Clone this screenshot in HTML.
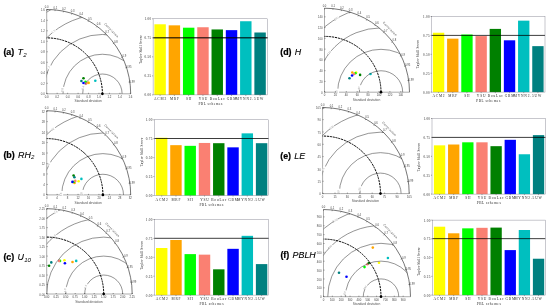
<!DOCTYPE html>
<html lang="en">
<head>
<meta charset="utf-8">
<title>Taylor diagrams and Taylor Skill Scores of PBL schemes</title>
<style>
html,body{margin:0;padding:0;background:#fff;}
body{width:550px;height:308px;overflow:hidden;}
svg{display:block;}
</style>
</head>
<body>
<svg width="550" height="308" viewBox="0 0 550 308">
<rect width="550" height="308" fill="#fff"/>
<defs>
<clipPath id="clip1"><path d="M46.7 93.8 L130.7 93.8 A84 84.34 0 0 0 46.7 9.46 Z"/></clipPath>
<clipPath id="clip2"><path d="M46.7 194.9 L130.7 194.9 A84 84.17 0 0 0 46.7 110.73 Z"/></clipPath>
<clipPath id="clip3"><path d="M46.7 294 L132.2 294 A85.5 85.33 0 0 0 46.7 208.67 Z"/></clipPath>
<clipPath id="clip4"><path d="M324.5 92.2 L409.5 92.2 A85 83.98 0 0 0 324.5 8.22 Z"/></clipPath>
<clipPath id="clip5"><path d="M322.6 193.6 L409.2 193.6 A86.6 86.08 0 0 0 322.6 107.52 Z"/></clipPath>
<clipPath id="clip6"><path d="M323.5 296.7 L410.5 296.7 A87 87.17 0 0 0 323.5 209.53 Z"/></clipPath>
</defs>
<circle cx="88.8" cy="82.9" r="1.3" fill="#ffff00"/>
<circle cx="88.3" cy="82.8" r="1.3" fill="#ffa500"/>
<circle cx="85.5" cy="81.8" r="1.3" fill="#00ff00"/>
<circle cx="86.2" cy="83.6" r="1.3" fill="#fa8072"/>
<circle cx="83.5" cy="78.2" r="1.3" fill="#008000"/>
<circle cx="83.5" cy="83" r="1.3" fill="#0000ff"/>
<circle cx="95.3" cy="80.7" r="1.3" fill="#00bfbf"/>
<circle cx="81.4" cy="81" r="1.3" fill="#008080"/>
<g clip-path="url(#clip1)" fill="none" stroke="#3c3c3c" stroke-width="0.55"><ellipse cx="102.4" cy="93.8" rx="19.7" ry="19.78"/><ellipse cx="102.4" cy="93.8" rx="39.4" ry="39.56"/><ellipse cx="102.4" cy="93.8" rx="59.1" ry="59.34"/><ellipse cx="102.4" cy="93.8" rx="78.8" ry="79.12"/><ellipse cx="102.4" cy="93.8" rx="98.5" ry="98.89"/></g>
<path d="M130.7 93.8 A84 84.34 0 0 0 46.7 9.46" fill="none" stroke="#1a1a1a" stroke-width="0.6"/>
<path d="M46.7 9.46 L46.7 93.8 L130.7 93.8" fill="none" stroke="#3a3a3a" stroke-width="0.42"/>
<text x="46.7" y="97.8" font-family="Liberation Sans, sans-serif" font-size="2.8" text-anchor="middle" fill="#444">0.0</text>
<text x="44.9" y="95.35" font-family="Liberation Sans, sans-serif" font-size="2.9" text-anchor="end" fill="#505050">0.0</text>
<text x="57.16" y="97.8" font-family="Liberation Sans, sans-serif" font-size="2.8" text-anchor="middle" fill="#444">0.2</text>
<text x="44.9" y="84.85" font-family="Liberation Sans, sans-serif" font-size="2.9" text-anchor="end" fill="#505050">0.2</text>
<text x="67.62" y="97.8" font-family="Liberation Sans, sans-serif" font-size="2.8" text-anchor="middle" fill="#444">0.4</text>
<text x="44.9" y="74.35" font-family="Liberation Sans, sans-serif" font-size="2.9" text-anchor="end" fill="#505050">0.4</text>
<text x="78.08" y="97.8" font-family="Liberation Sans, sans-serif" font-size="2.8" text-anchor="middle" fill="#444">0.6</text>
<text x="44.9" y="63.84" font-family="Liberation Sans, sans-serif" font-size="2.9" text-anchor="end" fill="#505050">0.6</text>
<text x="88.54" y="97.8" font-family="Liberation Sans, sans-serif" font-size="2.8" text-anchor="middle" fill="#444">0.8</text>
<text x="44.9" y="53.34" font-family="Liberation Sans, sans-serif" font-size="2.9" text-anchor="end" fill="#505050">0.8</text>
<text x="99" y="97.8" font-family="Liberation Sans, sans-serif" font-size="2.8" text-anchor="middle" fill="#444">1.0</text>
<text x="44.9" y="42.84" font-family="Liberation Sans, sans-serif" font-size="2.9" text-anchor="end" fill="#505050">1.0</text>
<text x="109.46" y="97.8" font-family="Liberation Sans, sans-serif" font-size="2.8" text-anchor="middle" fill="#444">1.2</text>
<text x="44.9" y="32.34" font-family="Liberation Sans, sans-serif" font-size="2.9" text-anchor="end" fill="#505050">1.2</text>
<text x="119.92" y="97.8" font-family="Liberation Sans, sans-serif" font-size="2.8" text-anchor="middle" fill="#444">1.4</text>
<text x="44.9" y="21.84" font-family="Liberation Sans, sans-serif" font-size="2.9" text-anchor="end" fill="#505050">1.4</text>
<text x="130.38" y="97.8" font-family="Liberation Sans, sans-serif" font-size="2.8" text-anchor="middle" fill="#444">1.6</text>
<text x="44.9" y="11.34" font-family="Liberation Sans, sans-serif" font-size="2.9" text-anchor="end" fill="#505050">1.6</text>
<path d="M46.7 93.8 v-1 M46.7 93.8 h1 M57.16 93.8 v-1 M46.7 83.3 h1 M67.62 93.8 v-1 M46.7 72.8 h1 M78.08 93.8 v-1 M46.7 62.29 h1 M88.54 93.8 v-1 M46.7 51.79 h1 M99 93.8 v-1 M46.7 41.29 h1 M109.46 93.8 v-1 M46.7 30.79 h1 M119.92 93.8 v-1 M46.7 20.29 h1 M130.38 93.8 v-1 M46.7 9.79 h1" stroke="#1a1a1a" stroke-width="0.45" fill="none"/>
<text x="88.2" y="102.4" font-family="Liberation Sans, sans-serif" font-size="3.3" text-anchor="middle" fill="#555">Standard deviation</text>
<text x="46.7" y="8.06" font-family="Liberation Sans, sans-serif" font-size="2.7" text-anchor="middle" fill="#444">0.0</text>
<text x="55.34" y="8.5" font-family="Liberation Sans, sans-serif" font-size="2.7" text-anchor="middle" fill="#444">0.1</text>
<text x="63.98" y="9.82" font-family="Liberation Sans, sans-serif" font-size="2.7" text-anchor="middle" fill="#444">0.2</text>
<text x="72.62" y="12.06" font-family="Liberation Sans, sans-serif" font-size="2.7" text-anchor="middle" fill="#444">0.3</text>
<text x="81.26" y="15.31" font-family="Liberation Sans, sans-serif" font-size="2.7" text-anchor="middle" fill="#444">0.4</text>
<text x="89.9" y="19.68" font-family="Liberation Sans, sans-serif" font-size="2.7" text-anchor="middle" fill="#444">0.5</text>
<text x="98.54" y="25.41" font-family="Liberation Sans, sans-serif" font-size="2.7" text-anchor="middle" fill="#444">0.6</text>
<text x="107.18" y="32.86" font-family="Liberation Sans, sans-serif" font-size="2.7" text-anchor="middle" fill="#444">0.7</text>
<text x="115.82" y="42.76" font-family="Liberation Sans, sans-serif" font-size="2.7" text-anchor="middle" fill="#444">0.8</text>
<text x="124.46" y="56.99" font-family="Liberation Sans, sans-serif" font-size="2.7" text-anchor="middle" fill="#444">0.9</text>
<text x="128.78" y="67.72" font-family="Liberation Sans, sans-serif" font-size="2.7" text-anchor="middle" fill="#444">0.95</text>
<text x="132.24" y="82.56" font-family="Liberation Sans, sans-serif" font-size="2.7" text-anchor="middle" fill="#444">0.99</text>
<path d="M46.7 10.66 L46.7 9.46 M54.98 11.08 L55.1 9.89 M63.26 12.34 L63.5 11.17 M71.54 14.49 L71.9 13.35 M79.82 17.6 L80.3 16.5 M88.1 21.8 L88.7 20.76 M96.38 27.29 L97.1 26.33 M104.66 34.43 L105.5 33.57 M112.94 43.92 L113.9 43.2 M121.22 57.56 L122.3 57.04 M125.36 67.84 L126.5 67.47 M128.67 82.07 L129.86 81.9" stroke="#1a1a1a" stroke-width="0.45" fill="none"/>
<text x="110.7" y="31.08" font-family="Liberation Sans, sans-serif" font-size="3" text-anchor="middle" fill="#222" letter-spacing="0.42" transform="rotate(45.5 110.7 31.08)">Correlation</text>
<rect x="81.54" y="85.67" width="4.6" height="3" fill="#fff" transform="rotate(-70.4 83.84 87.17)"/>
<text x="83.84" y="88.17" font-family="Liberation Sans, sans-serif" font-size="2.8" text-anchor="middle" fill="#999" transform="rotate(-70.4 83.84 88.17)">0.4</text>
<rect x="60.98" y="87.62" width="4.6" height="3" fill="#fff" transform="rotate(-83.2 63.28 89.12)"/>
<text x="63.28" y="90.12" font-family="Liberation Sans, sans-serif" font-size="2.8" text-anchor="middle" fill="#999" transform="rotate(-83.2 63.28 90.12)">0.8</text>
<rect x="47.16" y="65.92" width="4.6" height="3" fill="#fff" transform="rotate(-63.6 49.46 67.42)"/>
<text x="49.46" y="68.42" font-family="Liberation Sans, sans-serif" font-size="2.8" text-anchor="middle" fill="#999" transform="rotate(-63.6 49.46 68.42)">1.1</text>
<rect x="51.8" y="29.79" width="4.6" height="3" fill="#fff" transform="rotate(-37.8 54.1 31.29)"/>
<text x="54.1" y="32.29" font-family="Liberation Sans, sans-serif" font-size="2.8" text-anchor="middle" fill="#999" transform="rotate(-37.8 54.1 32.29)">1.5</text>
<path d="M102.4 93.8 A55.7 55.92 0 0 0 46.7 37.88" fill="none" stroke="#000" stroke-width="1.0" stroke-dasharray="2.1 0.8"/>
<circle cx="102.4" cy="93.8" r="1.35" fill="#000"/>
<circle cx="78.6" cy="181.2" r="1.3" fill="#ffff00"/>
<circle cx="74.5" cy="183" r="1.3" fill="#ffa500"/>
<circle cx="74.1" cy="181.8" r="1.3" fill="#00ff00"/>
<circle cx="75.3" cy="180.9" r="1.3" fill="#fa8072"/>
<circle cx="73.6" cy="175.5" r="1.3" fill="#008000"/>
<circle cx="72.4" cy="181.9" r="1.3" fill="#0000ff"/>
<circle cx="81.4" cy="178.9" r="1.3" fill="#00bfbf"/>
<circle cx="74.4" cy="177.3" r="1.3" fill="#008080"/>
<g clip-path="url(#clip2)" fill="none" stroke="#3c3c3c" stroke-width="0.55"><ellipse cx="102.9" cy="194.9" rx="20.6" ry="20.64"/><ellipse cx="102.9" cy="194.9" rx="41.2" ry="41.28"/><ellipse cx="102.9" cy="194.9" rx="61.8" ry="61.92"/><ellipse cx="102.9" cy="194.9" rx="82.4" ry="82.56"/></g>
<path d="M130.7 194.9 A84 84.17 0 0 0 46.7 110.73" fill="none" stroke="#1a1a1a" stroke-width="0.6"/>
<path d="M46.7 110.73 L46.7 194.9 L130.7 194.9" fill="none" stroke="#3a3a3a" stroke-width="0.42"/>
<text x="46.7" y="198.9" font-family="Liberation Sans, sans-serif" font-size="2.8" text-anchor="middle" fill="#444">0</text>
<text x="44.9" y="196.45" font-family="Liberation Sans, sans-serif" font-size="2.9" text-anchor="end" fill="#505050">0</text>
<text x="57.15" y="198.9" font-family="Liberation Sans, sans-serif" font-size="2.8" text-anchor="middle" fill="#444">4</text>
<text x="44.9" y="185.98" font-family="Liberation Sans, sans-serif" font-size="2.9" text-anchor="end" fill="#505050">4</text>
<text x="67.6" y="198.9" font-family="Liberation Sans, sans-serif" font-size="2.8" text-anchor="middle" fill="#444">8</text>
<text x="44.9" y="175.51" font-family="Liberation Sans, sans-serif" font-size="2.9" text-anchor="end" fill="#505050">8</text>
<text x="78.05" y="198.9" font-family="Liberation Sans, sans-serif" font-size="2.8" text-anchor="middle" fill="#444">12</text>
<text x="44.9" y="165.04" font-family="Liberation Sans, sans-serif" font-size="2.9" text-anchor="end" fill="#505050">12</text>
<text x="88.5" y="198.9" font-family="Liberation Sans, sans-serif" font-size="2.8" text-anchor="middle" fill="#444">16</text>
<text x="44.9" y="154.57" font-family="Liberation Sans, sans-serif" font-size="2.9" text-anchor="end" fill="#505050">16</text>
<text x="98.95" y="198.9" font-family="Liberation Sans, sans-serif" font-size="2.8" text-anchor="middle" fill="#444">20</text>
<text x="44.9" y="144.1" font-family="Liberation Sans, sans-serif" font-size="2.9" text-anchor="end" fill="#505050">20</text>
<text x="109.4" y="198.9" font-family="Liberation Sans, sans-serif" font-size="2.8" text-anchor="middle" fill="#444">24</text>
<text x="44.9" y="133.62" font-family="Liberation Sans, sans-serif" font-size="2.9" text-anchor="end" fill="#505050">24</text>
<text x="119.85" y="198.9" font-family="Liberation Sans, sans-serif" font-size="2.8" text-anchor="middle" fill="#444">28</text>
<text x="44.9" y="123.15" font-family="Liberation Sans, sans-serif" font-size="2.9" text-anchor="end" fill="#505050">28</text>
<text x="130.3" y="198.9" font-family="Liberation Sans, sans-serif" font-size="2.8" text-anchor="middle" fill="#444">32</text>
<text x="44.9" y="112.68" font-family="Liberation Sans, sans-serif" font-size="2.9" text-anchor="end" fill="#505050">32</text>
<path d="M46.7 194.9 v-1 M46.7 194.9 h1 M57.15 194.9 v-1 M46.7 184.43 h1 M67.6 194.9 v-1 M46.7 173.96 h1 M78.05 194.9 v-1 M46.7 163.49 h1 M88.5 194.9 v-1 M46.7 153.02 h1 M98.95 194.9 v-1 M46.7 142.55 h1 M109.4 194.9 v-1 M46.7 132.07 h1 M119.85 194.9 v-1 M46.7 121.6 h1 M130.3 194.9 v-1 M46.7 111.13 h1" stroke="#1a1a1a" stroke-width="0.45" fill="none"/>
<text x="88.2" y="203.5" font-family="Liberation Sans, sans-serif" font-size="3.3" text-anchor="middle" fill="#555">Standard deviation</text>
<text x="46.7" y="109.33" font-family="Liberation Sans, sans-serif" font-size="2.7" text-anchor="middle" fill="#444">0.0</text>
<text x="55.34" y="109.77" font-family="Liberation Sans, sans-serif" font-size="2.7" text-anchor="middle" fill="#444">0.1</text>
<text x="63.98" y="111.08" font-family="Liberation Sans, sans-serif" font-size="2.7" text-anchor="middle" fill="#444">0.2</text>
<text x="72.62" y="113.32" font-family="Liberation Sans, sans-serif" font-size="2.7" text-anchor="middle" fill="#444">0.3</text>
<text x="81.26" y="116.56" font-family="Liberation Sans, sans-serif" font-size="2.7" text-anchor="middle" fill="#444">0.4</text>
<text x="89.9" y="120.93" font-family="Liberation Sans, sans-serif" font-size="2.7" text-anchor="middle" fill="#444">0.5</text>
<text x="98.54" y="126.65" font-family="Liberation Sans, sans-serif" font-size="2.7" text-anchor="middle" fill="#444">0.6</text>
<text x="107.18" y="134.08" font-family="Liberation Sans, sans-serif" font-size="2.7" text-anchor="middle" fill="#444">0.7</text>
<text x="115.82" y="143.96" font-family="Liberation Sans, sans-serif" font-size="2.7" text-anchor="middle" fill="#444">0.8</text>
<text x="124.46" y="158.17" font-family="Liberation Sans, sans-serif" font-size="2.7" text-anchor="middle" fill="#444">0.9</text>
<text x="128.78" y="168.87" font-family="Liberation Sans, sans-serif" font-size="2.7" text-anchor="middle" fill="#444">0.95</text>
<text x="132.24" y="183.69" font-family="Liberation Sans, sans-serif" font-size="2.7" text-anchor="middle" fill="#444">0.99</text>
<path d="M46.7 111.93 L46.7 110.73 M54.98 112.35 L55.1 111.15 M63.26 113.61 L63.5 112.43 M71.54 115.75 L71.9 114.61 M79.82 118.86 L80.3 117.76 M88.1 123.05 L88.7 122.01 M96.38 128.53 L97.1 127.57 M104.66 135.65 L105.5 134.79 M112.94 145.12 L113.9 144.4 M121.22 158.74 L122.3 158.21 M125.36 168.99 L126.5 168.62 M128.67 183.2 L129.86 183.03" stroke="#1a1a1a" stroke-width="0.45" fill="none"/>
<text x="110.7" y="132.3" font-family="Liberation Sans, sans-serif" font-size="3" text-anchor="middle" fill="#222" letter-spacing="0.42" transform="rotate(45.5 110.7 132.3)">Correlation</text>
<rect x="80.18" y="190.67" width="4.6" height="3" fill="#fff" transform="rotate(-82.4 82.48 192.17)"/>
<text x="82.48" y="193.17" font-family="Liberation Sans, sans-serif" font-size="2.8" text-anchor="middle" fill="#999" transform="rotate(-82.4 82.48 193.17)">8</text>
<rect x="59.43" y="191.82" width="4.6" height="3" fill="#fff" transform="rotate(-87.8 61.73 193.32)"/>
<text x="61.73" y="194.32" font-family="Liberation Sans, sans-serif" font-size="2.8" text-anchor="middle" fill="#999" transform="rotate(-87.8 61.73 194.32)">16</text>
<rect x="46.97" y="162.63" width="4.6" height="3" fill="#fff" transform="rotate(-60.2 49.27 164.13)"/>
<text x="49.27" y="165.13" font-family="Liberation Sans, sans-serif" font-size="2.8" text-anchor="middle" fill="#999" transform="rotate(-60.2 49.27 165.13)">24</text>
<rect x="51.01" y="127.46" width="4.6" height="3" fill="#fff" transform="rotate(-37 53.31 128.96)"/>
<text x="53.31" y="129.96" font-family="Liberation Sans, sans-serif" font-size="2.8" text-anchor="middle" fill="#999" transform="rotate(-37 53.31 129.96)">32</text>
<path d="M102.9 194.9 A56.2 56.31 0 0 0 46.7 138.59" fill="none" stroke="#000" stroke-width="1.0" stroke-dasharray="2.1 0.8"/>
<circle cx="102.9" cy="194.9" r="1.35" fill="#000"/>
<circle cx="64.4" cy="260.2" r="1.3" fill="#ffff00"/>
<circle cx="72.5" cy="262" r="1.3" fill="#ffa500"/>
<circle cx="60" cy="260.9" r="1.3" fill="#00ff00"/>
<circle cx="59.1" cy="260.9" r="1.3" fill="#fa8072"/>
<circle cx="49.1" cy="265.8" r="1.3" fill="#008000"/>
<circle cx="64.9" cy="263.3" r="1.3" fill="#0000ff"/>
<circle cx="76.2" cy="260.9" r="1.3" fill="#00bfbf"/>
<circle cx="51.3" cy="262.4" r="1.3" fill="#008080"/>
<g clip-path="url(#clip3)" fill="none" stroke="#3c3c3c" stroke-width="0.55"><ellipse cx="103.7" cy="294" rx="19" ry="18.96"/><ellipse cx="103.7" cy="294" rx="38" ry="37.92"/><ellipse cx="103.7" cy="294" rx="57" ry="56.89"/><ellipse cx="103.7" cy="294" rx="76" ry="75.85"/><ellipse cx="103.7" cy="294" rx="95" ry="94.81"/></g>
<path d="M132.2 294 A85.5 85.33 0 0 0 46.7 208.67" fill="none" stroke="#1a1a1a" stroke-width="0.6"/>
<path d="M46.7 208.67 L46.7 294 L132.2 294" fill="none" stroke="#3a3a3a" stroke-width="0.42"/>
<text x="46.7" y="298" font-family="Liberation Sans, sans-serif" font-size="2.8" text-anchor="middle" fill="#444">0.00</text>
<text x="44.9" y="295.55" font-family="Liberation Sans, sans-serif" font-size="2.9" text-anchor="end" fill="#505050">0.00</text>
<text x="56.2" y="298" font-family="Liberation Sans, sans-serif" font-size="2.8" text-anchor="middle" fill="#444">0.25</text>
<text x="44.9" y="286.07" font-family="Liberation Sans, sans-serif" font-size="2.9" text-anchor="end" fill="#505050">0.25</text>
<text x="65.7" y="298" font-family="Liberation Sans, sans-serif" font-size="2.8" text-anchor="middle" fill="#444">0.50</text>
<text x="44.9" y="276.59" font-family="Liberation Sans, sans-serif" font-size="2.9" text-anchor="end" fill="#505050">0.50</text>
<text x="75.2" y="298" font-family="Liberation Sans, sans-serif" font-size="2.8" text-anchor="middle" fill="#444">0.75</text>
<text x="44.9" y="267.11" font-family="Liberation Sans, sans-serif" font-size="2.9" text-anchor="end" fill="#505050">0.75</text>
<text x="84.7" y="298" font-family="Liberation Sans, sans-serif" font-size="2.8" text-anchor="middle" fill="#444">1.00</text>
<text x="44.9" y="257.63" font-family="Liberation Sans, sans-serif" font-size="2.9" text-anchor="end" fill="#505050">1.00</text>
<text x="94.2" y="298" font-family="Liberation Sans, sans-serif" font-size="2.8" text-anchor="middle" fill="#444">1.25</text>
<text x="44.9" y="248.15" font-family="Liberation Sans, sans-serif" font-size="2.9" text-anchor="end" fill="#505050">1.25</text>
<text x="103.7" y="298" font-family="Liberation Sans, sans-serif" font-size="2.8" text-anchor="middle" fill="#444">1.50</text>
<text x="44.9" y="238.66" font-family="Liberation Sans, sans-serif" font-size="2.9" text-anchor="end" fill="#505050">1.50</text>
<text x="113.2" y="298" font-family="Liberation Sans, sans-serif" font-size="2.8" text-anchor="middle" fill="#444">1.75</text>
<text x="44.9" y="229.18" font-family="Liberation Sans, sans-serif" font-size="2.9" text-anchor="end" fill="#505050">1.75</text>
<text x="122.7" y="298" font-family="Liberation Sans, sans-serif" font-size="2.8" text-anchor="middle" fill="#444">2.00</text>
<text x="44.9" y="219.7" font-family="Liberation Sans, sans-serif" font-size="2.9" text-anchor="end" fill="#505050">2.00</text>
<text x="132.2" y="298" font-family="Liberation Sans, sans-serif" font-size="2.8" text-anchor="middle" fill="#444">2.25</text>
<text x="44.9" y="210.22" font-family="Liberation Sans, sans-serif" font-size="2.9" text-anchor="end" fill="#505050">2.25</text>
<path d="M46.7 294 v-1 M46.7 294 h1 M56.2 294 v-1 M46.7 284.52 h1 M65.7 294 v-1 M46.7 275.04 h1 M75.2 294 v-1 M46.7 265.56 h1 M84.7 294 v-1 M46.7 256.08 h1 M94.2 294 v-1 M46.7 246.59 h1 M103.7 294 v-1 M46.7 237.11 h1 M113.2 294 v-1 M46.7 227.63 h1 M122.7 294 v-1 M46.7 218.15 h1 M132.2 294 v-1 M46.7 208.67 h1" stroke="#1a1a1a" stroke-width="0.45" fill="none"/>
<text x="88.95" y="302.6" font-family="Liberation Sans, sans-serif" font-size="3.3" text-anchor="middle" fill="#555">Standard deviation</text>
<text x="46.7" y="207.27" font-family="Liberation Sans, sans-serif" font-size="2.7" text-anchor="middle" fill="#444">0.0</text>
<text x="55.49" y="207.71" font-family="Liberation Sans, sans-serif" font-size="2.7" text-anchor="middle" fill="#444">0.1</text>
<text x="64.28" y="209.04" font-family="Liberation Sans, sans-serif" font-size="2.7" text-anchor="middle" fill="#444">0.2</text>
<text x="73.07" y="211.31" font-family="Liberation Sans, sans-serif" font-size="2.7" text-anchor="middle" fill="#444">0.3</text>
<text x="81.86" y="214.6" font-family="Liberation Sans, sans-serif" font-size="2.7" text-anchor="middle" fill="#444">0.4</text>
<text x="90.65" y="219.02" font-family="Liberation Sans, sans-serif" font-size="2.7" text-anchor="middle" fill="#444">0.5</text>
<text x="99.44" y="224.82" font-family="Liberation Sans, sans-serif" font-size="2.7" text-anchor="middle" fill="#444">0.6</text>
<text x="108.23" y="232.35" font-family="Liberation Sans, sans-serif" font-size="2.7" text-anchor="middle" fill="#444">0.7</text>
<text x="117.02" y="242.36" font-family="Liberation Sans, sans-serif" font-size="2.7" text-anchor="middle" fill="#444">0.8</text>
<text x="125.81" y="256.76" font-family="Liberation Sans, sans-serif" font-size="2.7" text-anchor="middle" fill="#444">0.9</text>
<text x="130.2" y="267.61" font-family="Liberation Sans, sans-serif" font-size="2.7" text-anchor="middle" fill="#444">0.95</text>
<text x="133.72" y="282.62" font-family="Liberation Sans, sans-serif" font-size="2.7" text-anchor="middle" fill="#444">0.99</text>
<path d="M46.7 209.87 L46.7 208.67 M55.13 210.29 L55.25 209.1 M63.56 211.57 L63.8 210.39 M71.99 213.75 L72.35 212.6 M80.42 216.89 L80.9 215.79 M88.85 221.14 L89.45 220.1 M97.28 226.7 L98 225.74 M105.71 233.92 L106.55 233.06 M114.14 243.52 L115.1 242.8 M122.57 257.33 L123.65 256.81 M126.78 267.73 L127.92 267.36 M130.16 282.13 L131.34 281.96" stroke="#1a1a1a" stroke-width="0.45" fill="none"/>
<text x="111.77" y="230.59" font-family="Liberation Sans, sans-serif" font-size="3" text-anchor="middle" fill="#222" letter-spacing="0.42" transform="rotate(45.5 111.77 230.59)">Correlation</text>
<rect x="84.11" y="284.64" width="4.6" height="3" fill="#fff" transform="rotate(-65.5 86.41 286.14)"/>
<text x="86.41" y="287.14" font-family="Liberation Sans, sans-serif" font-size="2.8" text-anchor="middle" fill="#999" transform="rotate(-65.5 86.41 287.14)">0.5</text>
<rect x="63.68" y="287.88" width="4.6" height="3" fill="#fff" transform="rotate(-83 65.98 289.38)"/>
<text x="65.98" y="290.38" font-family="Liberation Sans, sans-serif" font-size="2.8" text-anchor="middle" fill="#999" transform="rotate(-83 65.98 290.38)">1.0</text>
<rect x="52.35" y="234.57" width="4.6" height="3" fill="#fff" transform="rotate(-40.2 54.65 236.07)"/>
<text x="54.65" y="237.07" font-family="Liberation Sans, sans-serif" font-size="2.8" text-anchor="middle" fill="#999" transform="rotate(-40.2 54.65 237.07)">2.0</text>
<rect x="53.9" y="210.39" width="4.6" height="3" fill="#fff" transform="rotate(-30 56.2 211.89)"/>
<text x="56.2" y="212.89" font-family="Liberation Sans, sans-serif" font-size="2.8" text-anchor="middle" fill="#999" transform="rotate(-30 56.2 212.89)">2.5</text>
<path d="M103.7 294 A57 56.89 0 0 0 46.7 237.11" fill="none" stroke="#000" stroke-width="1.0" stroke-dasharray="2.1 0.8"/>
<circle cx="103.7" cy="294" r="1.35" fill="#000"/>
<circle cx="356.1" cy="72.5" r="1.3" fill="#ffff00"/>
<circle cx="352.3" cy="72.5" r="1.3" fill="#ffa500"/>
<circle cx="355.4" cy="73.3" r="1.3" fill="#00ff00"/>
<circle cx="354.1" cy="74" r="1.3" fill="#fa8072"/>
<circle cx="360.1" cy="74.9" r="1.3" fill="#008000"/>
<circle cx="352.1" cy="75.5" r="1.3" fill="#0000ff"/>
<circle cx="370.5" cy="74" r="1.3" fill="#00bfbf"/>
<circle cx="349.5" cy="78.2" r="1.3" fill="#008080"/>
<g clip-path="url(#clip4)" fill="none" stroke="#3c3c3c" stroke-width="0.55"><ellipse cx="381" cy="92.2" rx="21.7" ry="21.44"/><ellipse cx="381" cy="92.2" rx="43.4" ry="42.88"/><ellipse cx="381" cy="92.2" rx="65.1" ry="64.32"/><ellipse cx="381" cy="92.2" rx="86.8" ry="85.76"/></g>
<path d="M409.5 92.2 A85 83.98 0 0 0 324.5 8.22" fill="none" stroke="#1a1a1a" stroke-width="0.6"/>
<path d="M324.5 8.22 L324.5 92.2 L409.5 92.2" fill="none" stroke="#3a3a3a" stroke-width="0.42"/>
<text x="324.5" y="96.2" font-family="Liberation Sans, sans-serif" font-size="2.8" text-anchor="middle" fill="#444">0</text>
<text x="322.7" y="93.75" font-family="Liberation Sans, sans-serif" font-size="2.9" text-anchor="end" fill="#505050">0</text>
<text x="335.4" y="96.2" font-family="Liberation Sans, sans-serif" font-size="2.8" text-anchor="middle" fill="#444">20</text>
<text x="322.7" y="82.98" font-family="Liberation Sans, sans-serif" font-size="2.9" text-anchor="end" fill="#505050">20</text>
<text x="346.3" y="96.2" font-family="Liberation Sans, sans-serif" font-size="2.8" text-anchor="middle" fill="#444">40</text>
<text x="322.7" y="72.21" font-family="Liberation Sans, sans-serif" font-size="2.9" text-anchor="end" fill="#505050">40</text>
<text x="357.2" y="96.2" font-family="Liberation Sans, sans-serif" font-size="2.8" text-anchor="middle" fill="#444">60</text>
<text x="322.7" y="61.44" font-family="Liberation Sans, sans-serif" font-size="2.9" text-anchor="end" fill="#505050">60</text>
<text x="368.1" y="96.2" font-family="Liberation Sans, sans-serif" font-size="2.8" text-anchor="middle" fill="#444">80</text>
<text x="322.7" y="50.67" font-family="Liberation Sans, sans-serif" font-size="2.9" text-anchor="end" fill="#505050">80</text>
<text x="379" y="96.2" font-family="Liberation Sans, sans-serif" font-size="2.8" text-anchor="middle" fill="#444">100</text>
<text x="322.7" y="39.9" font-family="Liberation Sans, sans-serif" font-size="2.9" text-anchor="end" fill="#505050">100</text>
<text x="389.9" y="96.2" font-family="Liberation Sans, sans-serif" font-size="2.8" text-anchor="middle" fill="#444">120</text>
<text x="322.7" y="29.13" font-family="Liberation Sans, sans-serif" font-size="2.9" text-anchor="end" fill="#505050">120</text>
<text x="400.8" y="96.2" font-family="Liberation Sans, sans-serif" font-size="2.8" text-anchor="middle" fill="#444">140</text>
<text x="322.7" y="18.37" font-family="Liberation Sans, sans-serif" font-size="2.9" text-anchor="end" fill="#505050">140</text>
<path d="M324.5 92.2 v-1 M324.5 92.2 h1 M335.4 92.2 v-1 M324.5 81.43 h1 M346.3 92.2 v-1 M324.5 70.66 h1 M357.2 92.2 v-1 M324.5 59.89 h1 M368.1 92.2 v-1 M324.5 49.12 h1 M379 92.2 v-1 M324.5 38.35 h1 M389.9 92.2 v-1 M324.5 27.58 h1 M400.8 92.2 v-1 M324.5 16.82 h1" stroke="#1a1a1a" stroke-width="0.45" fill="none"/>
<text x="366.5" y="100.8" font-family="Liberation Sans, sans-serif" font-size="3.3" text-anchor="middle" fill="#555">Standard deviation</text>
<text x="324.5" y="6.82" font-family="Liberation Sans, sans-serif" font-size="2.7" text-anchor="middle" fill="#444">0.0</text>
<text x="333.24" y="7.25" font-family="Liberation Sans, sans-serif" font-size="2.7" text-anchor="middle" fill="#444">0.1</text>
<text x="341.98" y="8.57" font-family="Liberation Sans, sans-serif" font-size="2.7" text-anchor="middle" fill="#444">0.2</text>
<text x="350.72" y="10.8" font-family="Liberation Sans, sans-serif" font-size="2.7" text-anchor="middle" fill="#444">0.3</text>
<text x="359.46" y="14.03" font-family="Liberation Sans, sans-serif" font-size="2.7" text-anchor="middle" fill="#444">0.4</text>
<text x="368.2" y="18.39" font-family="Liberation Sans, sans-serif" font-size="2.7" text-anchor="middle" fill="#444">0.5</text>
<text x="376.94" y="24.1" font-family="Liberation Sans, sans-serif" font-size="2.7" text-anchor="middle" fill="#444">0.6</text>
<text x="385.68" y="31.51" font-family="Liberation Sans, sans-serif" font-size="2.7" text-anchor="middle" fill="#444">0.7</text>
<text x="394.42" y="41.37" font-family="Liberation Sans, sans-serif" font-size="2.7" text-anchor="middle" fill="#444">0.8</text>
<text x="403.16" y="55.55" font-family="Liberation Sans, sans-serif" font-size="2.7" text-anchor="middle" fill="#444">0.9</text>
<text x="407.53" y="66.23" font-family="Liberation Sans, sans-serif" font-size="2.7" text-anchor="middle" fill="#444">0.95</text>
<text x="411.03" y="81.01" font-family="Liberation Sans, sans-serif" font-size="2.7" text-anchor="middle" fill="#444">0.99</text>
<path d="M324.5 9.42 L324.5 8.22 M332.88 9.83 L333 8.64 M341.26 11.09 L341.5 9.92 M349.64 13.23 L350 12.09 M358.02 16.33 L358.5 15.23 M366.4 20.51 L367 19.47 M374.78 25.98 L375.5 25.02 M383.16 33.08 L384 32.23 M391.54 42.53 L392.5 41.81 M399.92 56.12 L401 55.59 M404.11 66.35 L405.25 65.98 M407.46 80.52 L408.65 80.35" stroke="#1a1a1a" stroke-width="0.45" fill="none"/>
<text x="389.22" y="29.73" font-family="Liberation Sans, sans-serif" font-size="3" text-anchor="middle" fill="#222" letter-spacing="0.42" transform="rotate(45.5 389.22 29.73)">Correlation</text>
<rect x="357.54" y="85.95" width="4.6" height="3" fill="#fff" transform="rotate(-77.2 359.84 87.45)"/>
<text x="359.84" y="88.45" font-family="Liberation Sans, sans-serif" font-size="2.8" text-anchor="middle" fill="#999" transform="rotate(-77.2 359.84 88.45)">40</text>
<rect x="335.32" y="89.43" width="4.6" height="3" fill="#fff" transform="rotate(-88.3 337.62 90.93)"/>
<text x="337.62" y="91.93" font-family="Liberation Sans, sans-serif" font-size="2.8" text-anchor="middle" fill="#999" transform="rotate(-88.3 337.62 91.93)">80</text>
<rect x="327.4" y="51.1" width="4.6" height="3" fill="#fff" transform="rotate(-52 329.7 52.6)"/>
<text x="329.7" y="53.6" font-family="Liberation Sans, sans-serif" font-size="2.8" text-anchor="middle" fill="#999" transform="rotate(-52 329.7 53.6)">120</text>
<rect x="334.38" y="16.96" width="4.6" height="3" fill="#fff" transform="rotate(-30.7 336.68 18.46)"/>
<text x="336.68" y="19.46" font-family="Liberation Sans, sans-serif" font-size="2.8" text-anchor="middle" fill="#999" transform="rotate(-30.7 336.68 19.46)">160</text>
<path d="M381 92.2 A56.5 55.82 0 0 0 324.5 36.38" fill="none" stroke="#000" stroke-width="1.0" stroke-dasharray="2.1 0.8"/>
<circle cx="381" cy="92.2" r="1.35" fill="#000"/>
<g clip-path="url(#clip5)" fill="none" stroke="#3c3c3c" stroke-width="0.55"><ellipse cx="380.5" cy="193.6" rx="20.6" ry="20.48"/><ellipse cx="380.5" cy="193.6" rx="41.2" ry="40.95"/><ellipse cx="380.5" cy="193.6" rx="61.8" ry="61.43"/><ellipse cx="380.5" cy="193.6" rx="82.4" ry="81.91"/><ellipse cx="380.5" cy="193.6" rx="103" ry="102.38"/></g>
<path d="M409.2 193.6 A86.6 86.08 0 0 0 322.6 107.52" fill="none" stroke="#1a1a1a" stroke-width="0.6"/>
<path d="M322.6 107.52 L322.6 193.6 L409.2 193.6" fill="none" stroke="#3a3a3a" stroke-width="0.42"/>
<text x="322.6" y="197.6" font-family="Liberation Sans, sans-serif" font-size="2.8" text-anchor="middle" fill="#444">0</text>
<text x="320.8" y="195.15" font-family="Liberation Sans, sans-serif" font-size="2.9" text-anchor="end" fill="#505050">0</text>
<text x="335" y="197.6" font-family="Liberation Sans, sans-serif" font-size="2.8" text-anchor="middle" fill="#444">15</text>
<text x="320.8" y="182.82" font-family="Liberation Sans, sans-serif" font-size="2.9" text-anchor="end" fill="#505050">15</text>
<text x="347.4" y="197.6" font-family="Liberation Sans, sans-serif" font-size="2.8" text-anchor="middle" fill="#444">30</text>
<text x="320.8" y="170.5" font-family="Liberation Sans, sans-serif" font-size="2.9" text-anchor="end" fill="#505050">30</text>
<text x="359.8" y="197.6" font-family="Liberation Sans, sans-serif" font-size="2.8" text-anchor="middle" fill="#444">45</text>
<text x="320.8" y="158.17" font-family="Liberation Sans, sans-serif" font-size="2.9" text-anchor="end" fill="#505050">45</text>
<text x="372.2" y="197.6" font-family="Liberation Sans, sans-serif" font-size="2.8" text-anchor="middle" fill="#444">60</text>
<text x="320.8" y="145.85" font-family="Liberation Sans, sans-serif" font-size="2.9" text-anchor="end" fill="#505050">60</text>
<text x="384.6" y="197.6" font-family="Liberation Sans, sans-serif" font-size="2.8" text-anchor="middle" fill="#444">75</text>
<text x="320.8" y="133.52" font-family="Liberation Sans, sans-serif" font-size="2.9" text-anchor="end" fill="#505050">75</text>
<text x="397" y="197.6" font-family="Liberation Sans, sans-serif" font-size="2.8" text-anchor="middle" fill="#444">90</text>
<text x="320.8" y="121.2" font-family="Liberation Sans, sans-serif" font-size="2.9" text-anchor="end" fill="#505050">90</text>
<text x="409.4" y="197.6" font-family="Liberation Sans, sans-serif" font-size="2.8" text-anchor="middle" fill="#444">105</text>
<text x="320.8" y="108.87" font-family="Liberation Sans, sans-serif" font-size="2.9" text-anchor="end" fill="#505050">105</text>
<path d="M322.6 193.6 v-1 M322.6 193.6 h1 M335 193.6 v-1 M322.6 181.27 h1 M347.4 193.6 v-1 M322.6 168.95 h1 M359.8 193.6 v-1 M322.6 156.62 h1 M372.2 193.6 v-1 M322.6 144.3 h1 M384.6 193.6 v-1 M322.6 131.97 h1 M397 193.6 v-1 M322.6 119.65 h1 M409.4 193.6 v-1 M322.6 107.32 h1" stroke="#1a1a1a" stroke-width="0.45" fill="none"/>
<text x="365.4" y="202.2" font-family="Liberation Sans, sans-serif" font-size="3.3" text-anchor="middle" fill="#555">Standard deviation</text>
<text x="322.6" y="106.12" font-family="Liberation Sans, sans-serif" font-size="2.7" text-anchor="middle" fill="#444">0.0</text>
<text x="331.5" y="106.56" font-family="Liberation Sans, sans-serif" font-size="2.7" text-anchor="middle" fill="#444">0.1</text>
<text x="340.4" y="107.91" font-family="Liberation Sans, sans-serif" font-size="2.7" text-anchor="middle" fill="#444">0.2</text>
<text x="349.3" y="110.2" font-family="Liberation Sans, sans-serif" font-size="2.7" text-anchor="middle" fill="#444">0.3</text>
<text x="358.2" y="113.51" font-family="Liberation Sans, sans-serif" font-size="2.7" text-anchor="middle" fill="#444">0.4</text>
<text x="367.1" y="117.97" font-family="Liberation Sans, sans-serif" font-size="2.7" text-anchor="middle" fill="#444">0.5</text>
<text x="376" y="123.82" font-family="Liberation Sans, sans-serif" font-size="2.7" text-anchor="middle" fill="#444">0.6</text>
<text x="384.9" y="131.41" font-family="Liberation Sans, sans-serif" font-size="2.7" text-anchor="middle" fill="#444">0.7</text>
<text x="393.8" y="141.51" font-family="Liberation Sans, sans-serif" font-size="2.7" text-anchor="middle" fill="#444">0.8</text>
<text x="402.7" y="156.03" font-family="Liberation Sans, sans-serif" font-size="2.7" text-anchor="middle" fill="#444">0.9</text>
<text x="407.15" y="166.97" font-family="Liberation Sans, sans-serif" font-size="2.7" text-anchor="middle" fill="#444">0.95</text>
<text x="410.71" y="182.12" font-family="Liberation Sans, sans-serif" font-size="2.7" text-anchor="middle" fill="#444">0.99</text>
<path d="M322.6 108.72 L322.6 107.52 M331.14 109.15 L331.26 107.95 M339.68 110.43 L339.92 109.26 M348.22 112.63 L348.58 111.48 M356.76 115.81 L357.24 114.71 M365.3 120.09 L365.9 119.05 M373.84 125.7 L374.56 124.74 M382.38 132.98 L383.22 132.13 M390.92 142.67 L391.88 141.95 M399.46 156.6 L400.54 156.08 M403.73 167.1 L404.87 166.72 M407.15 181.63 L408.33 181.46" stroke="#1a1a1a" stroke-width="0.45" fill="none"/>
<text x="388.46" y="129.66" font-family="Liberation Sans, sans-serif" font-size="3" text-anchor="middle" fill="#222" letter-spacing="0.42" transform="rotate(45.5 388.46 129.66)">Correlation</text>
<rect x="358.3" y="186.8" width="4.6" height="3" fill="#fff" transform="rotate(-75 360.6 188.3)"/>
<text x="360.6" y="189.3" font-family="Liberation Sans, sans-serif" font-size="2.8" text-anchor="middle" fill="#999" transform="rotate(-75 360.6 189.3)">25</text>
<rect x="337.09" y="189.39" width="4.6" height="3" fill="#fff" transform="rotate(-86.2 339.39 190.89)"/>
<text x="339.39" y="191.89" font-family="Liberation Sans, sans-serif" font-size="2.8" text-anchor="middle" fill="#999" transform="rotate(-86.2 339.39 191.89)">50</text>
<rect x="321.83" y="166.92" width="4.6" height="3" fill="#fff" transform="rotate(-65.8 324.13 168.42)"/>
<text x="324.13" y="169.42" font-family="Liberation Sans, sans-serif" font-size="2.8" text-anchor="middle" fill="#999" transform="rotate(-65.8 324.13 169.42)">75</text>
<rect x="329.77" y="125.84" width="4.6" height="3" fill="#fff" transform="rotate(-36 332.07 127.34)"/>
<text x="332.07" y="128.34" font-family="Liberation Sans, sans-serif" font-size="2.8" text-anchor="middle" fill="#999" transform="rotate(-36 332.07 128.34)">100</text>
<path d="M380.5 193.6 A57.9 57.55 0 0 0 322.6 136.05" fill="none" stroke="#000" stroke-width="1.0" stroke-dasharray="2.1 0.8"/>
<circle cx="380.5" cy="193.6" r="1.35" fill="#000"/>
<circle cx="379" cy="262.7" r="1.3" fill="#ffff00"/>
<circle cx="372.8" cy="247.6" r="1.3" fill="#ffa500"/>
<circle cx="364.5" cy="267.1" r="1.3" fill="#00ff00"/>
<circle cx="367.4" cy="264.2" r="1.3" fill="#fa8072"/>
<circle cx="368.8" cy="263.1" r="1.3" fill="#008000"/>
<circle cx="346.5" cy="276.7" r="1.3" fill="#0000ff"/>
<circle cx="387.9" cy="258" r="1.3" fill="#00bfbf"/>
<circle cx="339" cy="272.7" r="1.3" fill="#008080"/>
<g clip-path="url(#clip6)" fill="none" stroke="#3c3c3c" stroke-width="0.55"><ellipse cx="381" cy="296.7" rx="17.75" ry="17.79"/><ellipse cx="381" cy="296.7" rx="35.5" ry="35.57"/><ellipse cx="381" cy="296.7" rx="53.25" ry="53.36"/><ellipse cx="381" cy="296.7" rx="71" ry="71.14"/><ellipse cx="381" cy="296.7" rx="88.75" ry="88.93"/></g>
<path d="M410.5 296.7 A87 87.17 0 0 0 323.5 209.53" fill="none" stroke="#1a1a1a" stroke-width="0.6"/>
<path d="M323.5 209.53 L323.5 296.7 L410.5 296.7" fill="none" stroke="#3a3a3a" stroke-width="0.42"/>
<text x="323.5" y="300.7" font-family="Liberation Sans, sans-serif" font-size="2.8" text-anchor="middle" fill="#444">0</text>
<text x="321.7" y="298.25" font-family="Liberation Sans, sans-serif" font-size="2.9" text-anchor="end" fill="#505050">0</text>
<text x="332.35" y="300.7" font-family="Liberation Sans, sans-serif" font-size="2.8" text-anchor="middle" fill="#444">100</text>
<text x="321.7" y="289.38" font-family="Liberation Sans, sans-serif" font-size="2.9" text-anchor="end" fill="#505050">100</text>
<text x="341.2" y="300.7" font-family="Liberation Sans, sans-serif" font-size="2.8" text-anchor="middle" fill="#444">200</text>
<text x="321.7" y="280.51" font-family="Liberation Sans, sans-serif" font-size="2.9" text-anchor="end" fill="#505050">200</text>
<text x="350.05" y="300.7" font-family="Liberation Sans, sans-serif" font-size="2.8" text-anchor="middle" fill="#444">300</text>
<text x="321.7" y="271.65" font-family="Liberation Sans, sans-serif" font-size="2.9" text-anchor="end" fill="#505050">300</text>
<text x="358.9" y="300.7" font-family="Liberation Sans, sans-serif" font-size="2.8" text-anchor="middle" fill="#444">400</text>
<text x="321.7" y="262.78" font-family="Liberation Sans, sans-serif" font-size="2.9" text-anchor="end" fill="#505050">400</text>
<text x="367.75" y="300.7" font-family="Liberation Sans, sans-serif" font-size="2.8" text-anchor="middle" fill="#444">500</text>
<text x="321.7" y="253.91" font-family="Liberation Sans, sans-serif" font-size="2.9" text-anchor="end" fill="#505050">500</text>
<text x="376.6" y="300.7" font-family="Liberation Sans, sans-serif" font-size="2.8" text-anchor="middle" fill="#444">600</text>
<text x="321.7" y="245.04" font-family="Liberation Sans, sans-serif" font-size="2.9" text-anchor="end" fill="#505050">600</text>
<text x="385.45" y="300.7" font-family="Liberation Sans, sans-serif" font-size="2.8" text-anchor="middle" fill="#444">700</text>
<text x="321.7" y="236.18" font-family="Liberation Sans, sans-serif" font-size="2.9" text-anchor="end" fill="#505050">700</text>
<text x="394.3" y="300.7" font-family="Liberation Sans, sans-serif" font-size="2.8" text-anchor="middle" fill="#444">800</text>
<text x="321.7" y="227.31" font-family="Liberation Sans, sans-serif" font-size="2.9" text-anchor="end" fill="#505050">800</text>
<text x="403.15" y="300.7" font-family="Liberation Sans, sans-serif" font-size="2.8" text-anchor="middle" fill="#444">900</text>
<text x="321.7" y="218.44" font-family="Liberation Sans, sans-serif" font-size="2.9" text-anchor="end" fill="#505050">900</text>
<path d="M323.5 296.7 v-1 M323.5 296.7 h1 M332.35 296.7 v-1 M323.5 287.83 h1 M341.2 296.7 v-1 M323.5 278.96 h1 M350.05 296.7 v-1 M323.5 270.1 h1 M358.9 296.7 v-1 M323.5 261.23 h1 M367.75 296.7 v-1 M323.5 252.36 h1 M376.6 296.7 v-1 M323.5 243.49 h1 M385.45 296.7 v-1 M323.5 234.63 h1 M394.3 296.7 v-1 M323.5 225.76 h1 M403.15 296.7 v-1 M323.5 216.89 h1" stroke="#1a1a1a" stroke-width="0.45" fill="none"/>
<text x="366.5" y="305.3" font-family="Liberation Sans, sans-serif" font-size="3.3" text-anchor="middle" fill="#555">Standard deviation</text>
<text x="323.5" y="208.13" font-family="Liberation Sans, sans-serif" font-size="2.7" text-anchor="middle" fill="#444">0.0</text>
<text x="332.44" y="208.57" font-family="Liberation Sans, sans-serif" font-size="2.7" text-anchor="middle" fill="#444">0.1</text>
<text x="341.38" y="209.94" font-family="Liberation Sans, sans-serif" font-size="2.7" text-anchor="middle" fill="#444">0.2</text>
<text x="350.32" y="212.25" font-family="Liberation Sans, sans-serif" font-size="2.7" text-anchor="middle" fill="#444">0.3</text>
<text x="359.26" y="215.6" font-family="Liberation Sans, sans-serif" font-size="2.7" text-anchor="middle" fill="#444">0.4</text>
<text x="368.2" y="220.13" font-family="Liberation Sans, sans-serif" font-size="2.7" text-anchor="middle" fill="#444">0.5</text>
<text x="377.14" y="226.04" font-family="Liberation Sans, sans-serif" font-size="2.7" text-anchor="middle" fill="#444">0.6</text>
<text x="386.08" y="233.73" font-family="Liberation Sans, sans-serif" font-size="2.7" text-anchor="middle" fill="#444">0.7</text>
<text x="395.02" y="243.96" font-family="Liberation Sans, sans-serif" font-size="2.7" text-anchor="middle" fill="#444">0.8</text>
<text x="403.96" y="258.66" font-family="Liberation Sans, sans-serif" font-size="2.7" text-anchor="middle" fill="#444">0.9</text>
<text x="408.43" y="269.73" font-family="Liberation Sans, sans-serif" font-size="2.7" text-anchor="middle" fill="#444">0.95</text>
<text x="412.01" y="285.06" font-family="Liberation Sans, sans-serif" font-size="2.7" text-anchor="middle" fill="#444">0.99</text>
<path d="M323.5 210.73 L323.5 209.53 M332.08 211.16 L332.2 209.96 M340.66 212.46 L340.9 211.29 M349.24 214.69 L349.6 213.54 M357.82 217.9 L358.3 216.8 M366.4 222.24 L367 221.21 M374.98 227.92 L375.7 226.96 M383.56 235.3 L384.4 234.45 M392.14 245.12 L393.1 244.4 M400.72 259.22 L401.8 258.7 M405.01 269.85 L406.15 269.48 M408.44 284.57 L409.63 284.4" stroke="#1a1a1a" stroke-width="0.45" fill="none"/>
<text x="389.65" y="232" font-family="Liberation Sans, sans-serif" font-size="3" text-anchor="middle" fill="#222" letter-spacing="0.42" transform="rotate(45.5 389.65 232)">Correlation</text>
<rect x="363.63" y="285.8" width="4.6" height="3" fill="#fff" transform="rotate(-58.1 365.93 287.3)"/>
<text x="365.93" y="288.3" font-family="Liberation Sans, sans-serif" font-size="2.8" text-anchor="middle" fill="#999" transform="rotate(-58.1 365.93 288.3)">200</text>
<rect x="343.42" y="291.23" width="4.6" height="3" fill="#fff" transform="rotate(-83.6 345.72 292.73)"/>
<text x="345.72" y="293.73" font-family="Liberation Sans, sans-serif" font-size="2.8" text-anchor="middle" fill="#999" transform="rotate(-83.6 345.72 293.73)">400</text>
<rect x="328.41" y="244.98" width="4.6" height="3" fill="#fff" transform="rotate(-45.1 330.71 246.48)"/>
<text x="330.71" y="247.48" font-family="Liberation Sans, sans-serif" font-size="2.8" text-anchor="middle" fill="#999" transform="rotate(-45.1 330.71 247.48)">800</text>
<rect x="333.39" y="218.74" width="4.6" height="3" fill="#fff" transform="rotate(-30.7 335.69 220.24)"/>
<text x="335.69" y="221.24" font-family="Liberation Sans, sans-serif" font-size="2.8" text-anchor="middle" fill="#999" transform="rotate(-30.7 335.69 221.24)">1000</text>
<path d="M381 296.7 A57.5 57.62 0 0 0 323.5 239.08" fill="none" stroke="#000" stroke-width="1.0" stroke-dasharray="2.1 0.8"/>
<circle cx="381" cy="296.7" r="1.35" fill="#000"/>
<rect x="154.4" y="24.28" width="11.43" height="70.62" fill="#ffff00"/>
<path d="M160.11 94.9 v1" stroke="#222" stroke-width="0.4"/>
<text x="160.51" y="100.15" font-family="Liberation Serif, serif" font-size="3.5" text-anchor="middle" fill="#2a2a2a" letter-spacing="0.8">ACM2</text>
<rect x="168.68" y="25.34" width="11.43" height="69.56" fill="#ffa500"/>
<path d="M174.39 94.9 v1" stroke="#222" stroke-width="0.4"/>
<text x="174.79" y="100.15" font-family="Liberation Serif, serif" font-size="3.5" text-anchor="middle" fill="#2a2a2a" letter-spacing="0.8">MRF</text>
<rect x="182.96" y="27.7" width="11.43" height="67.2" fill="#00ff00"/>
<path d="M188.68 94.9 v1" stroke="#222" stroke-width="0.4"/>
<text x="189.08" y="100.15" font-family="Liberation Serif, serif" font-size="3.5" text-anchor="middle" fill="#2a2a2a" letter-spacing="0.8">SH</text>
<rect x="197.25" y="27.25" width="11.43" height="67.65" fill="#fa8072"/>
<path d="M202.96 94.9 v1" stroke="#222" stroke-width="0.4"/>
<text x="203.36" y="100.15" font-family="Liberation Serif, serif" font-size="3.5" text-anchor="middle" fill="#2a2a2a" letter-spacing="0.8">YSU</text>
<rect x="211.53" y="29.45" width="11.43" height="65.45" fill="#008000"/>
<path d="M217.24 94.9 v1" stroke="#222" stroke-width="0.4"/>
<text x="217.64" y="100.15" font-family="Liberation Serif, serif" font-size="3.5" text-anchor="middle" fill="#2a2a2a" letter-spacing="0.8">BouLac</text>
<rect x="225.81" y="30.14" width="11.43" height="64.76" fill="#0000ff"/>
<path d="M231.52 94.9 v1" stroke="#222" stroke-width="0.4"/>
<text x="231.92" y="100.15" font-family="Liberation Serif, serif" font-size="3.5" text-anchor="middle" fill="#2a2a2a" letter-spacing="0.8">GBM</text>
<rect x="240.09" y="21.24" width="11.43" height="73.66" fill="#00bfbf"/>
<path d="M245.81 94.9 v1" stroke="#222" stroke-width="0.4"/>
<text x="246.21" y="100.15" font-family="Liberation Serif, serif" font-size="3.5" text-anchor="middle" fill="#2a2a2a" letter-spacing="0.8">MYNN2.5</text>
<rect x="254.37" y="32.5" width="11.43" height="62.4" fill="#008080"/>
<path d="M260.09 94.9 v1" stroke="#222" stroke-width="0.4"/>
<text x="260.49" y="100.15" font-family="Liberation Serif, serif" font-size="3.5" text-anchor="middle" fill="#2a2a2a" letter-spacing="0.8">UW</text>
<path d="M153.1 37.85 H267.7" stroke="#000" stroke-opacity="0.7" stroke-width="1.5"/>
<rect x="153.1" y="18.8" width="114.6" height="76.1" fill="none" stroke="#5f5f70" stroke-width="0.4" stroke-opacity="0.85"/>
<path d="M153.1 94.9 h-1" stroke="#222" stroke-width="0.4"/>
<text x="151.1" y="96.4" font-family="Liberation Serif, serif" font-size="3.3" text-anchor="end" fill="#2a2a2a" textLength="6.6" lengthAdjust="spacing">0.00</text>
<path d="M153.1 75.88 h-1" stroke="#222" stroke-width="0.4"/>
<text x="151.1" y="77.38" font-family="Liberation Serif, serif" font-size="3.3" text-anchor="end" fill="#2a2a2a" textLength="6.6" lengthAdjust="spacing">0.25</text>
<path d="M153.1 56.85 h-1" stroke="#222" stroke-width="0.4"/>
<text x="151.1" y="58.35" font-family="Liberation Serif, serif" font-size="3.3" text-anchor="end" fill="#2a2a2a" textLength="6.6" lengthAdjust="spacing">0.50</text>
<path d="M153.1 37.83 h-1" stroke="#222" stroke-width="0.4"/>
<text x="151.1" y="39.33" font-family="Liberation Serif, serif" font-size="3.3" text-anchor="end" fill="#2a2a2a" textLength="6.6" lengthAdjust="spacing">0.75</text>
<path d="M153.1 18.8 h-1" stroke="#222" stroke-width="0.4"/>
<text x="151.1" y="20.3" font-family="Liberation Serif, serif" font-size="3.3" text-anchor="end" fill="#2a2a2a" textLength="6.6" lengthAdjust="spacing">1.00</text>
<text x="210.4" y="105.2" font-family="Liberation Serif, serif" font-size="3.5" text-anchor="middle" fill="#2a2a2a" textLength="24" lengthAdjust="spacing">PBL schemes</text>
<text x="142.5" y="49.55" font-family="Liberation Serif, serif" font-size="3.5" text-anchor="middle" fill="#222" transform="rotate(-90 142.5 49.55)" textLength="28.5" lengthAdjust="spacing">Taylor Skill Score</text>
<rect x="155.95" y="137.74" width="11.42" height="57.76" fill="#ffff00"/>
<path d="M161.66 195.5 v1" stroke="#222" stroke-width="0.4"/>
<text x="162.06" y="200.75" font-family="Liberation Serif, serif" font-size="3.5" text-anchor="middle" fill="#2a2a2a" letter-spacing="0.8">ACM2</text>
<rect x="170.23" y="145.16" width="11.42" height="50.34" fill="#ffa500"/>
<path d="M175.94 195.5 v1" stroke="#222" stroke-width="0.4"/>
<text x="176.34" y="200.75" font-family="Liberation Serif, serif" font-size="3.5" text-anchor="middle" fill="#2a2a2a" letter-spacing="0.8">MRF</text>
<rect x="184.5" y="145.84" width="11.42" height="49.66" fill="#00ff00"/>
<path d="M190.21 195.5 v1" stroke="#222" stroke-width="0.4"/>
<text x="190.61" y="200.75" font-family="Liberation Serif, serif" font-size="3.5" text-anchor="middle" fill="#2a2a2a" letter-spacing="0.8">SH</text>
<rect x="198.78" y="142.96" width="11.42" height="52.54" fill="#fa8072"/>
<path d="M204.49 195.5 v1" stroke="#222" stroke-width="0.4"/>
<text x="204.89" y="200.75" font-family="Liberation Serif, serif" font-size="3.5" text-anchor="middle" fill="#2a2a2a" letter-spacing="0.8">YSU</text>
<rect x="213.05" y="143.19" width="11.42" height="52.31" fill="#008000"/>
<path d="M218.76 195.5 v1" stroke="#222" stroke-width="0.4"/>
<text x="219.16" y="200.75" font-family="Liberation Serif, serif" font-size="3.5" text-anchor="middle" fill="#2a2a2a" letter-spacing="0.8">BouLac</text>
<rect x="227.33" y="147.35" width="11.42" height="48.15" fill="#0000ff"/>
<path d="M233.04 195.5 v1" stroke="#222" stroke-width="0.4"/>
<text x="233.44" y="200.75" font-family="Liberation Serif, serif" font-size="3.5" text-anchor="middle" fill="#2a2a2a" letter-spacing="0.8">GBM</text>
<rect x="241.6" y="133.35" width="11.42" height="62.15" fill="#00bfbf"/>
<path d="M247.31 195.5 v1" stroke="#222" stroke-width="0.4"/>
<text x="247.71" y="200.75" font-family="Liberation Serif, serif" font-size="3.5" text-anchor="middle" fill="#2a2a2a" letter-spacing="0.8">MYNN2.5</text>
<rect x="255.88" y="143.19" width="11.42" height="52.31" fill="#008080"/>
<path d="M261.59 195.5 v1" stroke="#222" stroke-width="0.4"/>
<text x="261.99" y="200.75" font-family="Liberation Serif, serif" font-size="3.5" text-anchor="middle" fill="#2a2a2a" letter-spacing="0.8">UW</text>
<path d="M154.3 138.5 H268.5" stroke="#000" stroke-opacity="0.9" stroke-width="0.85"/>
<rect x="154.3" y="119.8" width="114.2" height="75.7" fill="none" stroke="#5f5f70" stroke-width="0.4" stroke-opacity="0.85"/>
<path d="M154.3 195.5 h-1" stroke="#222" stroke-width="0.4"/>
<text x="152.3" y="197" font-family="Liberation Serif, serif" font-size="3.3" text-anchor="end" fill="#2a2a2a" textLength="6.6" lengthAdjust="spacing">0.00</text>
<path d="M154.3 176.57 h-1" stroke="#222" stroke-width="0.4"/>
<text x="152.3" y="178.07" font-family="Liberation Serif, serif" font-size="3.3" text-anchor="end" fill="#2a2a2a" textLength="6.6" lengthAdjust="spacing">0.25</text>
<path d="M154.3 157.65 h-1" stroke="#222" stroke-width="0.4"/>
<text x="152.3" y="159.15" font-family="Liberation Serif, serif" font-size="3.3" text-anchor="end" fill="#2a2a2a" textLength="6.6" lengthAdjust="spacing">0.50</text>
<path d="M154.3 138.72 h-1" stroke="#222" stroke-width="0.4"/>
<text x="152.3" y="140.22" font-family="Liberation Serif, serif" font-size="3.3" text-anchor="end" fill="#2a2a2a" textLength="6.6" lengthAdjust="spacing">0.75</text>
<path d="M154.3 119.8 h-1" stroke="#222" stroke-width="0.4"/>
<text x="152.3" y="121.3" font-family="Liberation Serif, serif" font-size="3.3" text-anchor="end" fill="#2a2a2a" textLength="6.6" lengthAdjust="spacing">1.00</text>
<text x="211.4" y="205.8" font-family="Liberation Serif, serif" font-size="3.5" text-anchor="middle" fill="#2a2a2a" textLength="24" lengthAdjust="spacing">PBL schemes</text>
<text x="143.1" y="151.95" font-family="Liberation Serif, serif" font-size="3.5" text-anchor="middle" fill="#222" transform="rotate(-90 143.1 151.95)" textLength="28.5" lengthAdjust="spacing">Taylor Skill Score</text>
<rect x="156" y="248" width="11.42" height="47.1" fill="#ffff00"/>
<path d="M161.71 295.1 v1" stroke="#222" stroke-width="0.4"/>
<text x="162.11" y="300.35" font-family="Liberation Serif, serif" font-size="3.5" text-anchor="middle" fill="#2a2a2a" letter-spacing="0.8">ACM2</text>
<rect x="170.27" y="239.99" width="11.42" height="55.11" fill="#ffa500"/>
<path d="M175.98 295.1 v1" stroke="#222" stroke-width="0.4"/>
<text x="176.38" y="300.35" font-family="Liberation Serif, serif" font-size="3.5" text-anchor="middle" fill="#2a2a2a" letter-spacing="0.8">MRF</text>
<rect x="184.54" y="254.12" width="11.42" height="40.98" fill="#00ff00"/>
<path d="M190.25 295.1 v1" stroke="#222" stroke-width="0.4"/>
<text x="190.65" y="300.35" font-family="Liberation Serif, serif" font-size="3.5" text-anchor="middle" fill="#2a2a2a" letter-spacing="0.8">SH</text>
<rect x="198.81" y="254.65" width="11.42" height="40.45" fill="#fa8072"/>
<path d="M204.52 295.1 v1" stroke="#222" stroke-width="0.4"/>
<text x="204.92" y="300.35" font-family="Liberation Serif, serif" font-size="3.5" text-anchor="middle" fill="#2a2a2a" letter-spacing="0.8">YSU</text>
<rect x="213.08" y="269.32" width="11.42" height="25.78" fill="#008000"/>
<path d="M218.78 295.1 v1" stroke="#222" stroke-width="0.4"/>
<text x="219.18" y="300.35" font-family="Liberation Serif, serif" font-size="3.5" text-anchor="middle" fill="#2a2a2a" letter-spacing="0.8">BouLac</text>
<rect x="227.35" y="248.83" width="11.42" height="46.27" fill="#0000ff"/>
<path d="M233.05 295.1 v1" stroke="#222" stroke-width="0.4"/>
<text x="233.45" y="300.35" font-family="Liberation Serif, serif" font-size="3.5" text-anchor="middle" fill="#2a2a2a" letter-spacing="0.8">GBM</text>
<rect x="241.62" y="235.83" width="11.42" height="59.27" fill="#00bfbf"/>
<path d="M247.32 295.1 v1" stroke="#222" stroke-width="0.4"/>
<text x="247.72" y="300.35" font-family="Liberation Serif, serif" font-size="3.5" text-anchor="middle" fill="#2a2a2a" letter-spacing="0.8">MYNN2.5</text>
<rect x="255.88" y="264.1" width="11.42" height="31" fill="#008080"/>
<path d="M261.59 295.1 v1" stroke="#222" stroke-width="0.4"/>
<text x="261.99" y="300.35" font-family="Liberation Serif, serif" font-size="3.5" text-anchor="middle" fill="#2a2a2a" letter-spacing="0.8">UW</text>
<path d="M154.4 238.3 H268.7" stroke="#000" stroke-opacity="0.9" stroke-width="0.85"/>
<rect x="154.4" y="219.5" width="114.3" height="75.6" fill="none" stroke="#5f5f70" stroke-width="0.4" stroke-opacity="0.85"/>
<path d="M154.4 295.1 h-1" stroke="#222" stroke-width="0.4"/>
<text x="152.4" y="296.6" font-family="Liberation Serif, serif" font-size="3.3" text-anchor="end" fill="#2a2a2a" textLength="6.6" lengthAdjust="spacing">0.00</text>
<path d="M154.4 276.2 h-1" stroke="#222" stroke-width="0.4"/>
<text x="152.4" y="277.7" font-family="Liberation Serif, serif" font-size="3.3" text-anchor="end" fill="#2a2a2a" textLength="6.6" lengthAdjust="spacing">0.25</text>
<path d="M154.4 257.3 h-1" stroke="#222" stroke-width="0.4"/>
<text x="152.4" y="258.8" font-family="Liberation Serif, serif" font-size="3.3" text-anchor="end" fill="#2a2a2a" textLength="6.6" lengthAdjust="spacing">0.50</text>
<path d="M154.4 238.4 h-1" stroke="#222" stroke-width="0.4"/>
<text x="152.4" y="239.9" font-family="Liberation Serif, serif" font-size="3.3" text-anchor="end" fill="#2a2a2a" textLength="6.6" lengthAdjust="spacing">0.75</text>
<path d="M154.4 219.5 h-1" stroke="#222" stroke-width="0.4"/>
<text x="152.4" y="221" font-family="Liberation Serif, serif" font-size="3.3" text-anchor="end" fill="#2a2a2a" textLength="6.6" lengthAdjust="spacing">1.00</text>
<text x="211.55" y="305.4" font-family="Liberation Serif, serif" font-size="3.5" text-anchor="middle" fill="#2a2a2a" textLength="24" lengthAdjust="spacing">PBL schemes</text>
<text x="143.2" y="255.2" font-family="Liberation Serif, serif" font-size="3.5" text-anchor="middle" fill="#222" transform="rotate(-90 143.2 255.2)" textLength="28.5" lengthAdjust="spacing">Taylor Skill Score</text>
<rect x="432.9" y="32.75" width="11.35" height="59.35" fill="#ffff00"/>
<path d="M438.58 92.1 v1" stroke="#222" stroke-width="0.4"/>
<text x="438.98" y="97.35" font-family="Liberation Serif, serif" font-size="3.5" text-anchor="middle" fill="#2a2a2a" letter-spacing="0.8">ACM2</text>
<rect x="447.09" y="38.65" width="11.35" height="53.45" fill="#ffa500"/>
<path d="M452.77 92.1 v1" stroke="#222" stroke-width="0.4"/>
<text x="453.17" y="97.35" font-family="Liberation Serif, serif" font-size="3.5" text-anchor="middle" fill="#2a2a2a" letter-spacing="0.8">MRF</text>
<rect x="461.28" y="34.49" width="11.35" height="57.61" fill="#00ff00"/>
<path d="M466.96 92.1 v1" stroke="#222" stroke-width="0.4"/>
<text x="467.36" y="97.35" font-family="Liberation Serif, serif" font-size="3.5" text-anchor="middle" fill="#2a2a2a" letter-spacing="0.8">SH</text>
<rect x="475.48" y="36.08" width="11.35" height="56.02" fill="#fa8072"/>
<path d="M481.15 92.1 v1" stroke="#222" stroke-width="0.4"/>
<text x="481.55" y="97.35" font-family="Liberation Serif, serif" font-size="3.5" text-anchor="middle" fill="#2a2a2a" letter-spacing="0.8">YSU</text>
<rect x="489.67" y="28.9" width="11.35" height="63.2" fill="#008000"/>
<path d="M495.35 92.1 v1" stroke="#222" stroke-width="0.4"/>
<text x="495.75" y="97.35" font-family="Liberation Serif, serif" font-size="3.5" text-anchor="middle" fill="#2a2a2a" letter-spacing="0.8">BouLac</text>
<rect x="503.86" y="40.31" width="11.35" height="51.79" fill="#0000ff"/>
<path d="M509.54 92.1 v1" stroke="#222" stroke-width="0.4"/>
<text x="509.94" y="97.35" font-family="Liberation Serif, serif" font-size="3.5" text-anchor="middle" fill="#2a2a2a" letter-spacing="0.8">GBM</text>
<rect x="518.05" y="20.66" width="11.35" height="71.44" fill="#00bfbf"/>
<path d="M523.73 92.1 v1" stroke="#222" stroke-width="0.4"/>
<text x="524.13" y="97.35" font-family="Liberation Serif, serif" font-size="3.5" text-anchor="middle" fill="#2a2a2a" letter-spacing="0.8">MYNN2.5</text>
<rect x="532.25" y="46.14" width="11.35" height="45.96" fill="#008080"/>
<path d="M537.92 92.1 v1" stroke="#222" stroke-width="0.4"/>
<text x="538.32" y="97.35" font-family="Liberation Serif, serif" font-size="3.5" text-anchor="middle" fill="#2a2a2a" letter-spacing="0.8">UW</text>
<path d="M431.6 35.4 H545" stroke="#000" stroke-opacity="0.9" stroke-width="0.85"/>
<rect x="431.6" y="16.5" width="113.4" height="75.6" fill="none" stroke="#5f5f70" stroke-width="0.4" stroke-opacity="0.85"/>
<path d="M431.6 92.1 h-1" stroke="#222" stroke-width="0.4"/>
<text x="429.6" y="93.6" font-family="Liberation Serif, serif" font-size="3.3" text-anchor="end" fill="#2a2a2a" textLength="6.6" lengthAdjust="spacing">0.00</text>
<path d="M431.6 73.2 h-1" stroke="#222" stroke-width="0.4"/>
<text x="429.6" y="74.7" font-family="Liberation Serif, serif" font-size="3.3" text-anchor="end" fill="#2a2a2a" textLength="6.6" lengthAdjust="spacing">0.25</text>
<path d="M431.6 54.3 h-1" stroke="#222" stroke-width="0.4"/>
<text x="429.6" y="55.8" font-family="Liberation Serif, serif" font-size="3.3" text-anchor="end" fill="#2a2a2a" textLength="6.6" lengthAdjust="spacing">0.50</text>
<path d="M431.6 35.4 h-1" stroke="#222" stroke-width="0.4"/>
<text x="429.6" y="36.9" font-family="Liberation Serif, serif" font-size="3.3" text-anchor="end" fill="#2a2a2a" textLength="6.6" lengthAdjust="spacing">0.75</text>
<path d="M431.6 16.5 h-1" stroke="#222" stroke-width="0.4"/>
<text x="429.6" y="18" font-family="Liberation Serif, serif" font-size="3.3" text-anchor="end" fill="#2a2a2a" textLength="6.6" lengthAdjust="spacing">1.00</text>
<text x="488.3" y="102.4" font-family="Liberation Serif, serif" font-size="3.5" text-anchor="middle" fill="#2a2a2a" textLength="24" lengthAdjust="spacing">PBL schemes</text>
<text x="419.5" y="54.1" font-family="Liberation Serif, serif" font-size="3.5" text-anchor="middle" fill="#222" transform="rotate(-90 419.5 54.1)" textLength="28.5" lengthAdjust="spacing">Taylor Skill Score</text>
<rect x="433.9" y="145.34" width="11.31" height="48.76" fill="#ffff00"/>
<path d="M439.56 194.1 v1" stroke="#222" stroke-width="0.4"/>
<text x="439.96" y="199.35" font-family="Liberation Serif, serif" font-size="3.5" text-anchor="middle" fill="#2a2a2a" letter-spacing="0.8">ACM2</text>
<rect x="448.04" y="144.51" width="11.31" height="49.59" fill="#ffa500"/>
<path d="M453.7 194.1 v1" stroke="#222" stroke-width="0.4"/>
<text x="454.1" y="199.35" font-family="Liberation Serif, serif" font-size="3.5" text-anchor="middle" fill="#2a2a2a" letter-spacing="0.8">MRF</text>
<rect x="462.18" y="142.31" width="11.31" height="51.79" fill="#00ff00"/>
<path d="M467.84 194.1 v1" stroke="#222" stroke-width="0.4"/>
<text x="468.24" y="199.35" font-family="Liberation Serif, serif" font-size="3.5" text-anchor="middle" fill="#2a2a2a" letter-spacing="0.8">SH</text>
<rect x="476.32" y="142.31" width="11.31" height="51.79" fill="#fa8072"/>
<path d="M481.98 194.1 v1" stroke="#222" stroke-width="0.4"/>
<text x="482.38" y="199.35" font-family="Liberation Serif, serif" font-size="3.5" text-anchor="middle" fill="#2a2a2a" letter-spacing="0.8">YSU</text>
<rect x="490.46" y="146.17" width="11.31" height="47.93" fill="#008000"/>
<path d="M496.12 194.1 v1" stroke="#222" stroke-width="0.4"/>
<text x="496.52" y="199.35" font-family="Liberation Serif, serif" font-size="3.5" text-anchor="middle" fill="#2a2a2a" letter-spacing="0.8">BouLac</text>
<rect x="504.61" y="139.82" width="11.31" height="54.28" fill="#0000ff"/>
<path d="M510.26 194.1 v1" stroke="#222" stroke-width="0.4"/>
<text x="510.66" y="199.35" font-family="Liberation Serif, serif" font-size="3.5" text-anchor="middle" fill="#2a2a2a" letter-spacing="0.8">GBM</text>
<rect x="518.75" y="154.26" width="11.31" height="39.84" fill="#00bfbf"/>
<path d="M524.4 194.1 v1" stroke="#222" stroke-width="0.4"/>
<text x="524.8" y="199.35" font-family="Liberation Serif, serif" font-size="3.5" text-anchor="middle" fill="#2a2a2a" letter-spacing="0.8">MYNN2.5</text>
<rect x="532.89" y="135.13" width="11.31" height="58.97" fill="#008080"/>
<path d="M538.54 194.1 v1" stroke="#222" stroke-width="0.4"/>
<text x="538.94" y="199.35" font-family="Liberation Serif, serif" font-size="3.5" text-anchor="middle" fill="#2a2a2a" letter-spacing="0.8">UW</text>
<path d="M432 137.4 H545.5" stroke="#000" stroke-opacity="0.9" stroke-width="0.85"/>
<rect x="432" y="118.5" width="113.5" height="75.6" fill="none" stroke="#5f5f70" stroke-width="0.4" stroke-opacity="0.85"/>
<path d="M432 194.1 h-1" stroke="#222" stroke-width="0.4"/>
<text x="430" y="195.6" font-family="Liberation Serif, serif" font-size="3.3" text-anchor="end" fill="#2a2a2a" textLength="6.6" lengthAdjust="spacing">0.00</text>
<path d="M432 175.2 h-1" stroke="#222" stroke-width="0.4"/>
<text x="430" y="176.7" font-family="Liberation Serif, serif" font-size="3.3" text-anchor="end" fill="#2a2a2a" textLength="6.6" lengthAdjust="spacing">0.25</text>
<path d="M432 156.3 h-1" stroke="#222" stroke-width="0.4"/>
<text x="430" y="157.8" font-family="Liberation Serif, serif" font-size="3.3" text-anchor="end" fill="#2a2a2a" textLength="6.6" lengthAdjust="spacing">0.50</text>
<path d="M432 137.4 h-1" stroke="#222" stroke-width="0.4"/>
<text x="430" y="138.9" font-family="Liberation Serif, serif" font-size="3.3" text-anchor="end" fill="#2a2a2a" textLength="6.6" lengthAdjust="spacing">0.75</text>
<path d="M432 118.5 h-1" stroke="#222" stroke-width="0.4"/>
<text x="430" y="120" font-family="Liberation Serif, serif" font-size="3.3" text-anchor="end" fill="#2a2a2a" textLength="6.6" lengthAdjust="spacing">1.00</text>
<text x="488.75" y="204.4" font-family="Liberation Serif, serif" font-size="3.5" text-anchor="middle" fill="#2a2a2a" textLength="24" lengthAdjust="spacing">PBL schemes</text>
<text x="420.5" y="157.1" font-family="Liberation Serif, serif" font-size="3.5" text-anchor="middle" fill="#222" transform="rotate(-90 420.5 157.1)" textLength="28.5" lengthAdjust="spacing">Taylor Skill Score</text>
<rect x="433.9" y="226.7" width="11.31" height="68.4" fill="#ffff00"/>
<path d="M439.56 295.1 v1" stroke="#222" stroke-width="0.4"/>
<text x="439.96" y="300.35" font-family="Liberation Serif, serif" font-size="3.5" text-anchor="middle" fill="#2a2a2a" letter-spacing="0.8">ACM2</text>
<rect x="448.04" y="233.3" width="11.31" height="61.8" fill="#ffa500"/>
<path d="M453.7 295.1 v1" stroke="#222" stroke-width="0.4"/>
<text x="454.1" y="300.35" font-family="Liberation Serif, serif" font-size="3.5" text-anchor="middle" fill="#2a2a2a" letter-spacing="0.8">MRF</text>
<rect x="462.18" y="228.35" width="11.31" height="66.75" fill="#00ff00"/>
<path d="M467.84 295.1 v1" stroke="#222" stroke-width="0.4"/>
<text x="468.24" y="300.35" font-family="Liberation Serif, serif" font-size="3.5" text-anchor="middle" fill="#2a2a2a" letter-spacing="0.8">SH</text>
<rect x="476.32" y="227.82" width="11.31" height="67.28" fill="#fa8072"/>
<path d="M481.98 295.1 v1" stroke="#222" stroke-width="0.4"/>
<text x="482.38" y="300.35" font-family="Liberation Serif, serif" font-size="3.5" text-anchor="middle" fill="#2a2a2a" letter-spacing="0.8">YSU</text>
<rect x="490.46" y="227.6" width="11.31" height="67.5" fill="#008000"/>
<path d="M496.12 295.1 v1" stroke="#222" stroke-width="0.4"/>
<text x="496.52" y="300.35" font-family="Liberation Serif, serif" font-size="3.5" text-anchor="middle" fill="#2a2a2a" letter-spacing="0.8">BouLac</text>
<rect x="504.61" y="250.1" width="11.31" height="45" fill="#0000ff"/>
<path d="M510.26 295.1 v1" stroke="#222" stroke-width="0.4"/>
<text x="510.66" y="300.35" font-family="Liberation Serif, serif" font-size="3.5" text-anchor="middle" fill="#2a2a2a" letter-spacing="0.8">GBM</text>
<rect x="518.75" y="230" width="11.31" height="65.1" fill="#00bfbf"/>
<path d="M524.4 295.1 v1" stroke="#222" stroke-width="0.4"/>
<text x="524.8" y="300.35" font-family="Liberation Serif, serif" font-size="3.5" text-anchor="middle" fill="#2a2a2a" letter-spacing="0.8">MYNN2.5</text>
<rect x="532.89" y="258.73" width="11.31" height="36.38" fill="#008080"/>
<path d="M538.54 295.1 v1" stroke="#222" stroke-width="0.4"/>
<text x="538.94" y="300.35" font-family="Liberation Serif, serif" font-size="3.5" text-anchor="middle" fill="#2a2a2a" letter-spacing="0.8">UW</text>
<path d="M432.3 238.65 H545.3" stroke="#000" stroke-opacity="0.9" stroke-width="0.85"/>
<rect x="432.3" y="220.1" width="113" height="75" fill="none" stroke="#5f5f70" stroke-width="0.4" stroke-opacity="0.85"/>
<path d="M432.3 295.1 h-1" stroke="#222" stroke-width="0.4"/>
<text x="430.3" y="296.6" font-family="Liberation Serif, serif" font-size="3.3" text-anchor="end" fill="#2a2a2a" textLength="6.6" lengthAdjust="spacing">0.00</text>
<path d="M432.3 276.35 h-1" stroke="#222" stroke-width="0.4"/>
<text x="430.3" y="277.85" font-family="Liberation Serif, serif" font-size="3.3" text-anchor="end" fill="#2a2a2a" textLength="6.6" lengthAdjust="spacing">0.25</text>
<path d="M432.3 257.6 h-1" stroke="#222" stroke-width="0.4"/>
<text x="430.3" y="259.1" font-family="Liberation Serif, serif" font-size="3.3" text-anchor="end" fill="#2a2a2a" textLength="6.6" lengthAdjust="spacing">0.50</text>
<path d="M432.3 238.85 h-1" stroke="#222" stroke-width="0.4"/>
<text x="430.3" y="240.35" font-family="Liberation Serif, serif" font-size="3.3" text-anchor="end" fill="#2a2a2a" textLength="6.6" lengthAdjust="spacing">0.75</text>
<path d="M432.3 220.1 h-1" stroke="#222" stroke-width="0.4"/>
<text x="430.3" y="221.6" font-family="Liberation Serif, serif" font-size="3.3" text-anchor="end" fill="#2a2a2a" textLength="6.6" lengthAdjust="spacing">1.00</text>
<text x="488.8" y="305.4" font-family="Liberation Serif, serif" font-size="3.5" text-anchor="middle" fill="#2a2a2a" textLength="24" lengthAdjust="spacing">PBL schemes</text>
<text x="420" y="261.6" font-family="Liberation Serif, serif" font-size="3.5" text-anchor="middle" fill="#222" transform="rotate(-90 420 261.6)" textLength="28.5" lengthAdjust="spacing">Taylor Skill Score</text>
<text x="3.4" y="54.8" font-family="Liberation Sans, sans-serif" font-size="8.9" fill="#000"><tspan font-weight="bold" stroke="#000" stroke-width="0.22">(a)</tspan><tspan font-style="italic" stroke="#000" stroke-width="0.1" dx="3.3">T</tspan><tspan font-style="italic" font-size="6.1" dy="1.7" dx="0.2">2</tspan></text>
<text x="3.4" y="157.6" font-family="Liberation Sans, sans-serif" font-size="8.9" fill="#000"><tspan font-weight="bold" stroke="#000" stroke-width="0.22">(b)</tspan><tspan font-style="italic" stroke="#000" stroke-width="0.1" dx="3.3">RH</tspan><tspan font-style="italic" font-size="6.1" dy="1.7" dx="0.2">2</tspan></text>
<text x="3.4" y="260.3" font-family="Liberation Sans, sans-serif" font-size="8.9" fill="#000"><tspan font-weight="bold" stroke="#000" stroke-width="0.22">(c)</tspan><tspan font-style="italic" stroke="#000" stroke-width="0.1" dx="3.3">U</tspan><tspan font-style="italic" font-size="6.1" dy="1.7" dx="0.2">10</tspan></text>
<text x="280.2" y="54.5" font-family="Liberation Sans, sans-serif" font-size="8.9" fill="#000"><tspan font-weight="bold" stroke="#000" stroke-width="0.22">(d)</tspan><tspan font-style="italic" stroke="#000" stroke-width="0.1" dx="3.3">H</tspan></text>
<text x="280.2" y="158.8" font-family="Liberation Sans, sans-serif" font-size="8.9" fill="#000"><tspan font-weight="bold" stroke="#000" stroke-width="0.22">(e)</tspan><tspan font-style="italic" stroke="#000" stroke-width="0.1" dx="3.3">LE</tspan></text>
<text x="280.4" y="257.9" font-family="Liberation Sans, sans-serif" font-size="8.9" fill="#000"><tspan font-weight="bold" stroke="#000" stroke-width="0.22">(f)</tspan><tspan font-style="italic" stroke="#000" stroke-width="0.1" dx="3.3">PBLH</tspan></text>
</svg>
</body>
</html>
